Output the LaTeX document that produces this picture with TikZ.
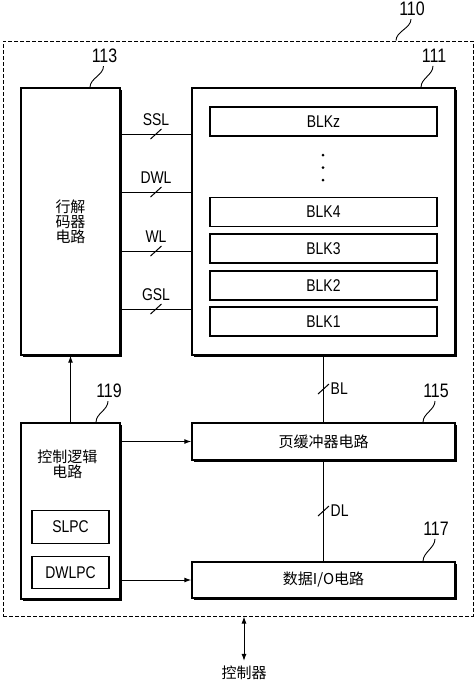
\documentclass[tikz,border=0pt]{standalone}
\usepackage{fontspec}
\setmainfont[FakeStretch=0.82]{Liberation Sans}
\newfontfamily\cjk{Noto Sans CJK SC}
\usetikzlibrary{arrows.meta, positioning, calc, shadows}

\begin{document}
\begin{tikzpicture}[x=1pt, y=-1pt,
  unitbox/.style={draw, line width=1.4pt, fill=white, inner sep=0pt, drop shadow={shadow xshift=1.8pt, shadow yshift=-1.8pt, fill=black, opacity=1}},
  blkbox/.style={draw, line width=1.3pt, minimum width=227pt, minimum height=29pt, inner sep=0pt, font=\fontsize{17}{17}\selectfont},
  pcbox/.style={draw, line width=1.3pt, minimum width=77pt, minimum height=32.5pt, inner sep=0pt, font=\fontsize{17}{17}\selectfont},
  numlbl/.style={font=\fontsize{19.5}{19.5}\selectfont, inner sep=0pt},
  sig/.style={font=\fontsize{17}{17}\selectfont, inner sep=1pt},
  cjktxt/.style={font=\cjk\fontsize{15}{15}\selectfont, align=center},
  wire/.style={line width=1pt},
  lead/.style={line width=0.9pt},
  sigarrow/.style={wire, -{Latex[length=7pt, width=5pt]}}
]
  \useasboundingbox (0,0) rectangle (474,681);
  \node[draw, dash pattern=on 4pt off 2pt, line width=1pt, minimum width=470pt, minimum height=575pt] (chip) at (238,328.5) {};

  \node[unitbox, cjktxt, minimum width=99pt, minimum height=267pt] (dec) at (70.5,221.5) {行解\\码器\\电路};
  \node[unitbox, minimum width=263pt, minimum height=267pt] (cells) at (323.5,221.5) {};
  \foreach \nm/\yy in {z/121.5, 4/212, 3/248.5, 2/285.5, 1/321.5}
    \node[blkbox] (blk\nm) at (323.5,\yy) {BLK\nm};
  \foreach \yy in {155,167.5,180}
    \fill (323,\yy) circle (1.5pt);

  \foreach \nm/\yy in {SSL/134, DWL/192, WL/251, GSL/309} {
    \draw[wire] (dec.east |- 0,\yy) -- coordinate (m\nm) (cells.west |- 0,\yy);
    \draw[wire] ($(m\nm)+(-5.5,5)$) -- ($(m\nm)+(5.5,-5)$);
    \node[sig] at ($(m\nm)+(0,-14)$) {\nm};
  }

  \node[unitbox, minimum width=99pt, minimum height=176pt] (ctrl) at (70.5,511) {};
  \node[cjktxt, inner sep=0pt] (ctrltxt) at (67.5,464.5) {控制逻辑\\电路};
  \node[pcbox] (slpc) at (70.5,527) {SLPC};
  \node[pcbox] (dwlpc) at (70.5,572.5) {DWLPC};

  \node[unitbox, cjktxt, minimum width=263pt, minimum height=37pt] (pb) at (323.5,441.5) {页缓冲器电路};
  \node[unitbox, cjktxt, minimum width=263pt, minimum height=36pt] (io) at (323.5,580) {数据I/O电路};

  \draw[wire] (cells.south) -- coordinate (mBL) (pb.north);
  \draw[wire] ($(mBL)+(-5.5,5)$) -- ($(mBL)+(5.5,-5)$);
  \node[sig, right=6pt of mBL] {BL};
  \draw[wire] (pb.south) -- coordinate (mDL) (io.north);
  \draw[wire] ($(mDL)+(-5.5,5)$) -- ($(mDL)+(5.5,-5)$);
  \node[sig, right=6pt of mDL] {DL};

  \draw[sigarrow] (ctrl.north -| dec.south) -- (dec.south);
  \draw[sigarrow] (ctrl.east |- pb.west) -- (pb.west);
  \draw[sigarrow] (ctrl.east |- io.west) -- (io.west);

  \node[cjktxt, inner sep=0pt] (host) at (244,673) {控制器};
  \draw[wire, {Latex[length=7pt, width=5pt]}-{Latex[length=7pt, width=5pt]}] (host.north |- chip.south) -- ([yshift=5pt]host.north);

  \foreach \num/\blk/\ax/\lx/\ly in {110/chip/396/412/9, 113/dec/90/104.5/56, 111/cells/421/434/56, 119/ctrl/96/109/391, 115/pb/423/436/391, 117/io/423/436/529} {
    \node[numlbl] (n\num) at (\lx,\ly) {\num};
    \draw[lead] (\blk.north -| \ax,0) .. controls +(0,-9) and +(0,9) .. ($(n\num.south)+(-1,3)$);
  }
\end{tikzpicture}
\end{document}
